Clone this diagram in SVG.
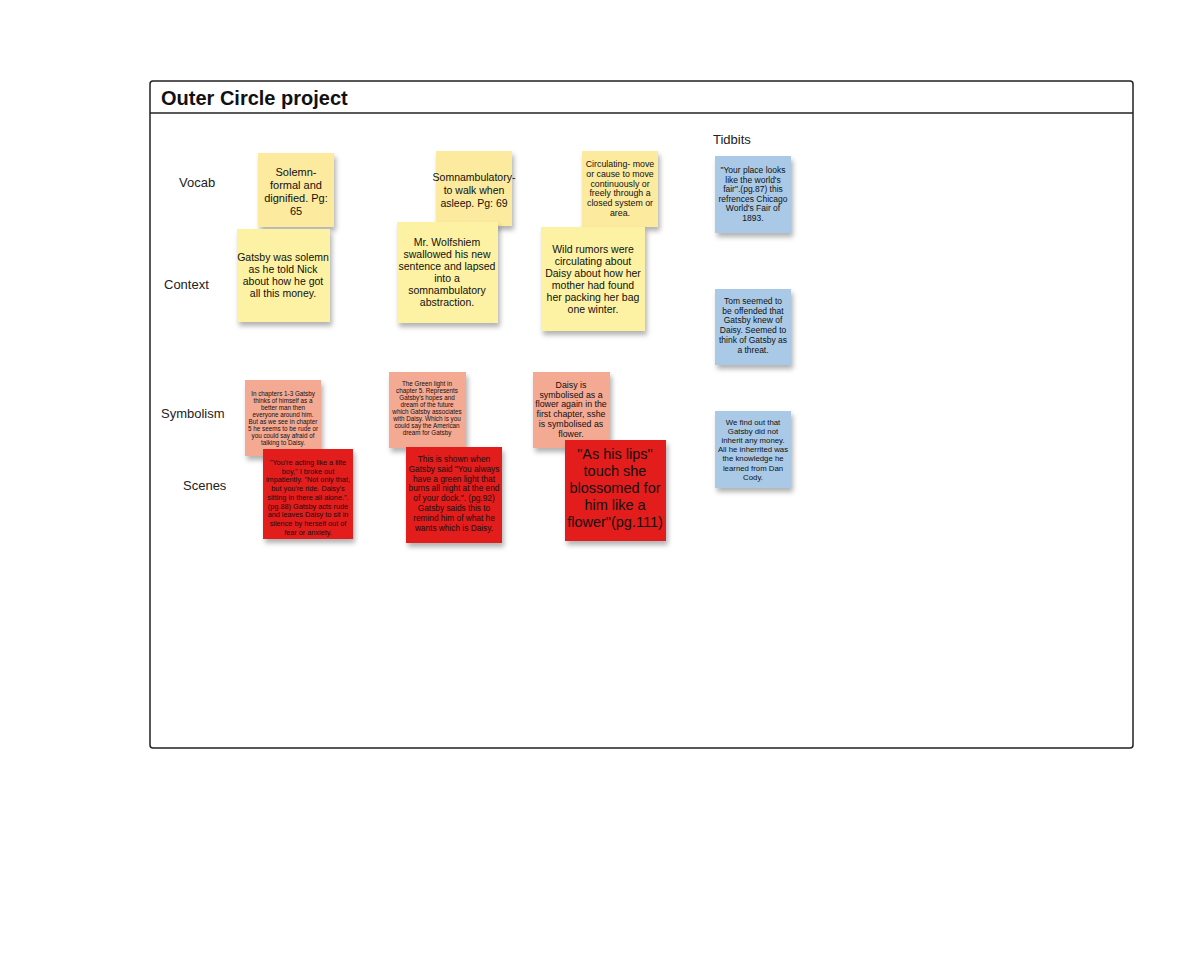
<svg xmlns="http://www.w3.org/2000/svg" width="1200" height="960" viewBox="0 0 1200 960">
<style>
text{font-family:"Liberation Sans",Arial,sans-serif;fill:#111;text-anchor:middle}
.lbl{font-size:13px;text-anchor:start;fill:#222}
.y{fill:#fdf2a4}.yv{fill:#fcea9f}.b{fill:#a9c9e6}.s{fill:#f4a993}.r{fill:#e31b1b}
</style>
<defs><filter id="sh" x="-20%" y="-20%" width="150%" height="150%"><feDropShadow dx="2" dy="4" stdDeviation="2.5" flood-color="#000" flood-opacity="0.3"/></filter></defs>
<rect width="1200" height="960" fill="#fff"/>
<g id="frame">
<rect x="150" y="81" width="983" height="667" rx="3" fill="#fff" stroke="#222" stroke-width="1.5"/>
<line x1="150" y1="113" x2="1133" y2="113" stroke="#222" stroke-width="1.5"/>
<text x="161" y="105" style="font-size:20px;font-weight:bold;text-anchor:start">Outer Circle project</text>
</g>
<g id="labels">
<text class="lbl" x="179" y="187">Vocab</text>
<text class="lbl" x="164" y="289">Context</text>
<text class="lbl" x="161" y="418">Symbolism</text>
<text class="lbl" x="183" y="490">Scenes</text>
<text class="lbl" x="713" y="144">Tidbits</text>
</g>
<g id="connectors"></g>
<g id="n1"><rect class="yv" x="258" y="153" width="76" height="74" filter="url(#sh)"/>
<text font-size="11"><tspan x="296" y="176">Solemn-</tspan><tspan x="296" dy="13">formal and</tspan><tspan x="296" dy="13">dignified. Pg:</tspan><tspan x="296" dy="13">65</tspan></text></g>
<g id="n2"><rect class="yv" x="436" y="151" width="76" height="75" filter="url(#sh)"/>
<text font-size="10.5"><tspan x="474" y="181">Somnambulatory-</tspan><tspan x="474" dy="13">to walk when</tspan><tspan x="474" dy="13">asleep. Pg: 69</tspan></text></g>
<g id="n3"><rect class="yv" x="582" y="151" width="76" height="76" filter="url(#sh)"/>
<text font-size="8.8"><tspan x="620" y="167">Circulating- move</tspan><tspan x="620" dy="9.8">or cause to move</tspan><tspan x="620" dy="9.8">continuously or</tspan><tspan x="620" dy="9.8">freely through a</tspan><tspan x="620" dy="9.8">closed system or</tspan><tspan x="620" dy="9.8">area.</tspan></text></g>
<g id="n4"><rect class="y" x="237" y="229" width="93" height="93" filter="url(#sh)"/>
<text font-size="10.5"><tspan x="283" y="261">Gatsby was solemn</tspan><tspan x="283" dy="12">as he told Nick</tspan><tspan x="283" dy="12">about how he got</tspan><tspan x="283" dy="12">all this money.</tspan></text></g>
<g id="n5"><rect class="y" x="397" y="222" width="101" height="101" filter="url(#sh)"/>
<text font-size="10.5"><tspan x="447" y="246">Mr. Wolfshiem</tspan><tspan x="447" dy="12">swallowed his new</tspan><tspan x="447" dy="12">sentence and lapsed</tspan><tspan x="447" dy="12">into a</tspan><tspan x="447" dy="12">somnambulatory</tspan><tspan x="447" dy="12">abstraction.</tspan></text></g>
<g id="n6"><rect class="y" x="541" y="227" width="104" height="104" filter="url(#sh)"/>
<text font-size="10.5"><tspan x="593" y="253">Wild rumors were</tspan><tspan x="593" dy="12">circulating about</tspan><tspan x="593" dy="12">Daisy about how her</tspan><tspan x="593" dy="12">mother had found</tspan><tspan x="593" dy="12">her packing her bag</tspan><tspan x="593" dy="12">one winter.</tspan></text></g>
<g id="n7"><rect class="b" x="715" y="156" width="76" height="77" filter="url(#sh)"/>
<text font-size="8.5" fill="#222"><tspan x="753" y="173">"Your place looks</tspan><tspan x="753" dy="9.5">like the world's</tspan><tspan x="753" dy="9.5">fair".(pg.87) this</tspan><tspan x="753" dy="9.5">refrences Chicago</tspan><tspan x="753" dy="9.5">World's Fair of</tspan><tspan x="753" dy="9.5">1893.</tspan></text></g>
<g id="n8"><rect class="b" x="715" y="289" width="76" height="76" filter="url(#sh)"/>
<text font-size="8.5"><tspan x="753" y="304">Tom seemed to</tspan><tspan x="753" dy="9.7">be offended that</tspan><tspan x="753" dy="9.7">Gatsby knew of</tspan><tspan x="753" dy="9.7">Daisy. Seemed to</tspan><tspan x="753" dy="9.7">think of Gatsby as</tspan><tspan x="753" dy="9.7">a threat.</tspan></text></g>
<g id="n9"><rect class="b" x="715" y="411" width="76" height="77" filter="url(#sh)"/>
<text font-size="7.8"><tspan x="753" y="425">We find out that</tspan><tspan x="753" dy="9.1">Gatsby did not</tspan><tspan x="753" dy="9.1">inherit any money.</tspan><tspan x="753" dy="9.1">All he inherrited was</tspan><tspan x="753" dy="9.1">the knowledge he</tspan><tspan x="753" dy="9.1">learned from Dan</tspan><tspan x="753" dy="9.1">Cody.</tspan></text></g>
<g id="n10"><rect class="s" x="245" y="380" width="76" height="76" filter="url(#sh)"/>
<text font-size="6.3"><tspan x="283" y="396">In chapters 1-3 Gatsby</tspan><tspan x="283" dy="7">thinks of himself as a</tspan><tspan x="283" dy="7">better man then</tspan><tspan x="283" dy="7">everyone around him.</tspan><tspan x="283" dy="7">But as we see in chapter</tspan><tspan x="283" dy="7">5 he seems to be rude or</tspan><tspan x="283" dy="7">you could say afraid of</tspan><tspan x="283" dy="7">talking to Daisy.</tspan></text></g>
<g id="n11"><rect class="s" x="389" y="372" width="77" height="76" filter="url(#sh)"/>
<text font-size="6.3"><tspan x="427" y="386">The Green light in</tspan><tspan x="427" dy="7">chapter 5. Represents</tspan><tspan x="427" dy="7">Gatsby's hopes and</tspan><tspan x="427" dy="7">dream of the future</tspan><tspan x="427" dy="7">which Gatsby associates</tspan><tspan x="427" dy="7">with Daisy. Which is you</tspan><tspan x="427" dy="7">could say the American</tspan><tspan x="427" dy="7">dream for Gatsby</tspan></text></g>
<g id="n12"><rect class="s" x="533" y="372" width="77" height="76" filter="url(#sh)"/>
<text font-size="8.8"><tspan x="571" y="388">Daisy is</tspan><tspan x="571" dy="9.7">symbolised as a</tspan><tspan x="571" dy="9.7">flower again in the</tspan><tspan x="571" dy="9.7">first chapter, sshe</tspan><tspan x="571" dy="9.7">is symbolised as</tspan><tspan x="571" dy="9.7">flower.</tspan></text></g>
<g id="n13"><rect class="r" x="263" y="449" width="90" height="90" filter="url(#sh)"/>
<text font-size="7.3"><tspan x="308" y="465">"You're acting like a lilte</tspan><tspan x="308" dy="8.7">boy," I broke out</tspan><tspan x="308" dy="8.7">impatiently. "Not only that,</tspan><tspan x="308" dy="8.7">but you're ride. Daisy's</tspan><tspan x="308" dy="8.7">sitting in there all alone.".</tspan><tspan x="308" dy="8.7">(pg.88) Gatsby acts rude</tspan><tspan x="308" dy="8.7">and leaves Daisy to sit in</tspan><tspan x="308" dy="8.7">silence by herself out of</tspan><tspan x="308" dy="8.7">fear or anxiety.</tspan></text></g>
<g id="n14"><rect class="r" x="406" y="447" width="96" height="96" filter="url(#sh)"/>
<text font-size="8.3"><tspan x="454" y="462">This is shown when</tspan><tspan x="454" dy="9.8">Gatsby said "You always</tspan><tspan x="454" dy="9.8">have a green light that</tspan><tspan x="454" dy="9.8">burns all night at the end</tspan><tspan x="454" dy="9.8">of your dock.". (pg.92)</tspan><tspan x="454" dy="9.8">Gatsby saids this to</tspan><tspan x="454" dy="9.8">remind him of what he</tspan><tspan x="454" dy="9.8">wants which is Daisy.</tspan></text></g>
<g id="n15"><rect class="r" x="565" y="440" width="101" height="101" filter="url(#sh)"/>
<text font-size="14.5"><tspan x="615" y="459">"As his lips"</tspan><tspan x="615" dy="17">touch she</tspan><tspan x="615" dy="17">blossomed for</tspan><tspan x="615" dy="17">him like a</tspan><tspan x="615" dy="17">flower"(pg.111)</tspan></text></g>
</svg>
